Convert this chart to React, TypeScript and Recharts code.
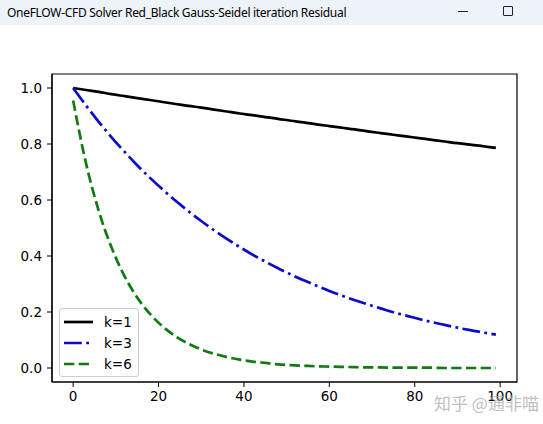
import { LineChart, Line, XAxis, YAxis, Legend, ReferenceArea } from 'recharts';

// iteration index, sampled every 3 steps
const iterations = [
  0, 3, 6, 9, 12, 15, 18, 21, 24, 27, 30, 33, 36, 39, 42, 45, 48,
  51, 54, 57, 60, 63, 66, 69, 72, 75, 78, 81, 84, 87, 90, 93, 96, 99,
];

const residualK1 = [
  1.0, 0.993, 0.986, 0.978, 0.971, 0.964, 0.957, 0.95, 0.943, 0.936, 0.93, 0.923,
  0.916, 0.909, 0.903, 0.896, 0.89, 0.883, 0.877, 0.87, 0.864, 0.858, 0.852, 0.845,
  0.839, 0.833, 0.827, 0.821, 0.815, 0.809, 0.803, 0.798, 0.792, 0.786,
];

const residualK3 = [
  1.0, 0.938, 0.879, 0.824, 0.773, 0.724, 0.679, 0.637, 0.597, 0.56, 0.525, 0.492,
  0.461, 0.432, 0.405, 0.38, 0.356, 0.334, 0.313, 0.294, 0.275, 0.258, 0.242, 0.227,
  0.213, 0.199, 0.187, 0.175, 0.164, 0.154, 0.144, 0.135, 0.127, 0.119,
];

const residualK6 = [
  0.955, 0.732, 0.561, 0.43, 0.329, 0.252, 0.193, 0.148, 0.113, 0.087, 0.066, 0.051,
  0.039, 0.03, 0.023, 0.018, 0.013, 0.01, 0.008, 0.006, 0.005, 0.004, 0.003, 0.002,
  0.002, 0.001, 0.001, 0.001, 0.001, 0.0, 0.0, 0.0, 0.0, 0.0,
];

const seriesNames = ['k=1', 'k=3', 'k=6'];
const xTicks = [0, 20, 40, 60, 80, 100];
const yTicks = [0, 0.2, 0.4, 0.6, 0.8, 1.0];

const windowTitle = 'OneFLOW-CFD Solver Red_Black Gauss-Seidel iteration Residual';
const watermark = '知乎 @通非喵';

const X_DOMAIN: [number, number] = [-4.95, 103.95];
const Y_DOMAIN: [number, number] = [-0.05, 1.05];

const data = iterations.map((n, i) => ({
  n,
  k1: residualK1[i],
  k3: residualK3[i],
  k6: residualK6[i],
}));

const series = [
  { key: 'k1', name: seriesNames[0], color: '#000000', dash: undefined },
  { key: 'k3', name: seriesNames[1], color: '#0a0ac8', dash: '17.8 4.4 2.8 4.4' },
  { key: 'k6', name: seriesNames[2], color: '#117a11', dash: '10.3 4.4' },
];

const FONT = '"DejaVu Sans", sans-serif';
const tickStyle = { fill: '#000', fontSize: 13.5, fontFamily: FONT };

function LegendBox() {
  return (
    <div
      style={{
        border: '1px solid #cccccc',
        borderRadius: 3,
        background: 'rgba(255,255,255,0.8)',
        padding: '2px 6px 2px 4px',
        fontFamily: FONT,
        fontSize: 13.5,
        color: '#000',
      }}
    >
      {series.map((s) => (
        <div key={s.key} style={{ display: 'flex', alignItems: 'center', height: 21 }}>
          <svg width={29} height={6} style={{ display: 'block' }}>
            <line x1={0} y1={3} x2={29} y2={3} stroke={s.color} strokeWidth={2.7} strokeDasharray={s.dash} />
          </svg>
          <span style={{ marginLeft: 11 }}>{s.name}</span>
        </div>
      ))}
    </div>
  );
}

export default function App() {
  return (
    <div style={{ position: 'absolute', left: 0, top: 0, width: 543, height: 424, background: '#fff', overflow: 'hidden' }}>
      <LineChart width={543} height={424} data={data} margin={{ top: 74, right: 26, bottom: 12, left: 12 }}>
        <XAxis
          dataKey="n"
          type="number"
          domain={X_DOMAIN}
          ticks={xTicks}
          allowDataOverflow
          interval={0}
          height={30}
          tick={tickStyle}
          tickSize={5}
          tickMargin={4}
          axisLine={{ stroke: '#000', strokeWidth: 1.2 }}
          tickLine={{ stroke: '#000', strokeWidth: 1 }}
        />
        <YAxis
          type="number"
          domain={Y_DOMAIN}
          ticks={yTicks}
          allowDataOverflow
          interval={0}
          width={40}
          tick={tickStyle}
          tickSize={5}
          tickMargin={5}
          tickFormatter={(v: number) => v.toFixed(1)}
          axisLine={{ stroke: '#000', strokeWidth: 1.2 }}
          tickLine={{ stroke: '#000', strokeWidth: 1 }}
        />
        {/* axes frame (matplotlib spines) */}
        <ReferenceArea
          x1={X_DOMAIN[0]}
          x2={X_DOMAIN[1]}
          y1={Y_DOMAIN[0]}
          y2={Y_DOMAIN[1]}
          fill="none"
          fillOpacity={0}
          stroke="#000"
          strokeWidth={1.2}
          ifOverflow="visible"
        />
        <Legend
          layout="vertical"
          align="center"
          verticalAlign="middle"
          content={() => <LegendBox />}
          wrapperStyle={{ left: 59, top: 308, width: 'auto', height: 'auto' }}
        />
        {series.map((s) => (
          <Line
            key={s.key}
            type="monotone"
            dataKey={s.key}
            name={s.name}
            stroke={s.color}
            strokeWidth={2.7}
            strokeDasharray={s.dash}
            dot={false}
            activeDot={false}
            isAnimationActive={false}
          />
        ))}
      </LineChart>

      <div
        style={{
          position: 'absolute',
          left: 0,
          top: 0,
          width: 543,
          height: 25,
          background: '#eef2f9',
          fontFamily: '"Noto Sans", sans-serif',
          fontSize: 12,
          letterSpacing: -0.3,
          color: '#000',
        }}
      >
        <span style={{ position: 'absolute', left: 7, top: 4, whiteSpace: 'nowrap' }}>{windowTitle}</span>
        <div style={{ position: 'absolute', left: 458, top: 11, width: 10, height: 1, background: '#222' }} />
        <div style={{ position: 'absolute', left: 503, top: 6, width: 8, height: 8, border: '1px solid #222', borderRadius: 1 }} />
      </div>

      <div
        style={{
          position: 'absolute',
          left: 434,
          top: 390,
          fontFamily: '"Noto Sans CJK SC", sans-serif',
          fontSize: 17,
          color: 'rgba(170,170,170,0.75)',
          whiteSpace: 'nowrap',
        }}
      >
        {watermark}
      </div>
    </div>
  );
}
